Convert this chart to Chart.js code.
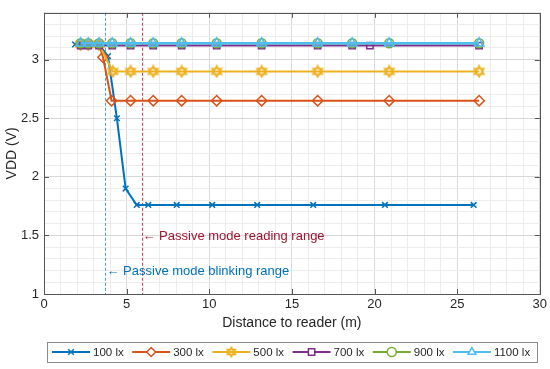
<!DOCTYPE html>
<html><head><meta charset="utf-8">
<script src="https://cdn.jsdelivr.net/npm/chart.js@4"></script>
<style>html,body{margin:0;padding:0;background:#fff}</style>
</head><body>
<canvas id="c" width="550" height="369"></canvas>
<script>
const seriesLabels = ['100 lx','300 lx','500 lx','700 lx','900 lx','1100 lx'];
const dist100 = [1.88, 2.22, 2.68, 3.33, 3.87, 4.41, 4.94, 5.61, 6.31, 8.03, 10.18, 12.9, 16.29, 20.63, 26.0];
const vdd100  = [3.13, 3.13, 3.13, 3.13, 3.03, 2.50, 1.90, 1.76, 1.76, 1.76, 1.76, 1.76, 1.76, 1.76, 1.76];
const dist300 = [2.22, 2.68, 3.33, 3.57, 4.09, 5.24, 6.61, 8.33, 10.45, 13.17, 16.56, 20.89, 26.33];
const vdd300  = [3.13, 3.13, 3.13, 3.02, 2.65, 2.65, 2.65, 2.65, 2.65, 2.65, 2.65, 2.65, 2.65];
const dist500 = [2.22, 2.68, 3.33, 4.16, 5.24, 6.61, 8.33, 10.45, 13.17, 16.56, 20.89, 26.33];
const vdd500  = [3.13, 3.13, 3.13, 2.90, 2.90, 2.90, 2.90, 2.90, 2.90, 2.90, 2.90, 2.90];
const dist700 = [2.22, 2.68, 3.33, 4.13, 5.24, 6.61, 8.33, 10.45, 13.17, 16.56, 18.65, 19.72, 26.33];
const vdd700  = [3.12, 3.12, 3.12, 3.12, 3.12, 3.12, 3.12, 3.12, 3.12, 3.12, 3.12, 3.12, 3.12];
const dist900 = [2.22, 2.68, 3.33, 4.13, 5.24, 6.61, 8.33, 10.45, 13.17, 16.56, 18.65, 20.89, 26.33];
const vdd900  = [3.14, 3.14, 3.14, 3.14, 3.14, 3.14, 3.14, 3.14, 3.14, 3.14, 3.14, 3.14, 3.14];
const dist1100 = [2.22, 2.68, 3.33, 4.13, 5.24, 6.61, 8.33, 10.45, 13.17, 16.56, 18.65, 20.89, 26.33];
const vdd1100  = [3.14, 3.14, 3.14, 3.14, 3.14, 3.14, 3.14, 3.14, 3.14, 3.14, 3.14, 3.14, 3.14];
const blinkingRange = 3.72;
const readingRange = 5.9;
const readingNote = {x: readingRange, y: 1.49, text: '\u2190 Passive mode reading range'};
const blinkingNote = {x: blinkingRange, y: 1.19, text: '\u2190 Passive mode blinking range'};
const xTicksMajor = [0, 5, 10, 15, 20, 25, 30];
const yTicksMajor = [1, 1.5, 2, 2.5, 3];

const colors = ['#0072BD','#D95319','#EDB120','#7E2F8E','#77AC30','#4DBEEE'];
const FONT = '"Liberation Sans", Arial, sans-serif';

function hexagram(color, size){
  const c = document.createElement('canvas');
  c.width = size; c.height = size;
  const g = c.getContext('2d');
  g.strokeStyle = color; g.lineWidth = 1.5;
  const cx = size/2, cy = size/2, r = size*0.4;
  for (let k = 0; k < 2; k++) {
    g.beginPath();
    for (let i = 0; i < 3; i++) {
      const a = -Math.PI/2 + k*Math.PI + i*2*Math.PI/3;
      const px = cx + r*Math.cos(a), py = cy + r*Math.sin(a);
      i ? g.lineTo(px, py) : g.moveTo(px, py);
    }
    g.closePath(); g.stroke();
  }
  return c;
}
const starImg = hexagram(colors[2], 14);
const starImgSmall = hexagram(colors[2], 12);

const pairs = (xs, ys) => xs.map((x, i) => ({x, y: ys[i]}));
const styles = [
  {pointStyle:'crossRot', pointRadius:4, borderWidth:2},
  {pointStyle:'rectRot', pointRadius:5.2, borderWidth:2},
  {pointStyle:starImg, pointRadius:7, borderWidth:2},
  {pointStyle:'rect', pointRadius:4.5, borderWidth:2},
  {pointStyle:'circle', pointRadius:4.5, borderWidth:2},
  {pointStyle:'triangle', pointRadius:5.5, borderWidth:2.5},
];
const dataArr = [pairs(dist100,vdd100), pairs(dist300,vdd300), pairs(dist500,vdd500),
                 pairs(dist700,vdd700), pairs(dist900,vdd900), pairs(dist1100,vdd1100)];
const datasets = dataArr.map((d, i) => ({
  label: seriesLabels[i], data: d, borderColor: colors[i], backgroundColor: 'rgba(0,0,0,0)',
  pointBorderColor: colors[i], pointBackgroundColor: 'rgba(0,0,0,0)', pointBorderWidth: 1.5,
  pointStyle: styles[i].pointStyle, pointRadius: styles[i].pointRadius, borderWidth: styles[i].borderWidth,
  tension: 0, order: 6 - i, clip: false
}));

const isMajor = (v, step) => Math.abs(v/step - Math.round(v/step)) < 1e-6;

const decor = {
  id: 'decor',
  beforeDatasetsDraw(chart) {
    const {ctx, chartArea: a, scales: {x}} = chart;
    ctx.save();
    ctx.lineWidth = 1; ctx.setLineDash([3, 2]);
    [[blinkingRange, '#4a9bd6'], [readingRange, '#c4485f']].forEach(([v, col]) => {
      const px = Math.round(x.getPixelForValue(v)) + 0.5;
      ctx.strokeStyle = col;
      ctx.beginPath(); ctx.moveTo(px, a.top); ctx.lineTo(px, a.bottom); ctx.stroke();
    });
    ctx.restore();
  },
  afterDatasetsDraw(chart) {
    const {ctx, chartArea: a, scales: {x, y}} = chart;
    ctx.save();
    ctx.strokeStyle = '#555'; ctx.lineWidth = 1;
    ctx.strokeRect(Math.round(a.left)+0.5, Math.round(a.top)+0.5, Math.round(a.right-a.left), Math.round(a.bottom-a.top));
    ctx.beginPath();
    xTicksMajor.forEach(v => {
      const px = Math.round(x.getPixelForValue(v)) + 0.5;
      ctx.moveTo(px, a.bottom); ctx.lineTo(px, a.bottom - 5);
      ctx.moveTo(px, a.top); ctx.lineTo(px, a.top + 5);
    });
    yTicksMajor.forEach(v => {
      const py = Math.round(y.getPixelForValue(v)) + 0.5;
      ctx.moveTo(a.left, py); ctx.lineTo(a.left + 5, py);
      ctx.moveTo(a.right, py); ctx.lineTo(a.right - 5, py);
    });
    ctx.stroke();
    ctx.font = '13px ' + FONT; ctx.textBaseline = 'middle'; ctx.textAlign = 'left';
    ctx.fillStyle = '#A2142F';
    ctx.fillText(readingNote.text, x.getPixelForValue(readingNote.x) + 1, y.getPixelForValue(readingNote.y));
    ctx.fillStyle = '#0072BD';
    ctx.fillText(blinkingNote.text, x.getPixelForValue(blinkingNote.x) + 1, y.getPixelForValue(blinkingNote.y));
    // legend
    const top = 342, bot = 362, mid = (top + bot) / 2;
    ctx.fillStyle = '#fff'; ctx.fillRect(47, top, 490, bot - top);
    ctx.strokeStyle = '#8a8a8a'; ctx.lineWidth = 1;
    ctx.strokeRect(47.5, top + 0.5, 490, bot - top);
    ctx.font = '11.5px ' + FONT;
    let lx = 52;
    chart.data.datasets.slice(0, 6).forEach((ds, i) => {
      ctx.strokeStyle = ds.borderColor; ctx.lineWidth = 2;
      ctx.beginPath(); ctx.moveTo(lx, mid); ctx.lineTo(lx + 38, mid); ctx.stroke();
      ctx.lineWidth = 1.5;
      ctx.fillStyle = '#fff';
      const ps = i === 2 ? starImgSmall : ds.pointStyle;
      Chart.helpers.drawPoint(ctx, {pointStyle: ps, radius: Math.min(ds.pointRadius, 4.5), borderWidth: 1.5, rotation: 0}, lx + 19, mid);
      ctx.fillStyle = '#262626';
      ctx.fillText(ds.label, lx + 41, mid + 0.5);
      lx += 41 + ctx.measureText(ds.label).width + 8.5;
    });
    ctx.restore();
  }
};

new Chart(document.getElementById('c'), {
  type: 'line',
  data: { datasets },
  options: {
    responsive: false, animation: false, devicePixelRatio: 1,
    layout: { padding: { top: 6, right: 10, bottom: 35, left: 0 } },
    plugins: { legend: { display: false }, tooltip: { enabled: false } },
    elements: { line: { fill: false } },
    scales: {
      x: {
        type: 'linear', min: 0, max: 30,
        afterFit(s) { s.height = 40; },
        border: { display: false },
        grid: { drawTicks: false, color: c => isMajor(c.tick.value, 5) ? '#d8d8d8' : '#ececec' },
        ticks: { stepSize: 1, autoSkip: false, maxRotation: 0, padding: 3, color: '#262626',
          font: { size: 13, family: FONT },
          callback: v => isMajor(v, 5) ? String(Math.round(v)) : '' },
        title: { display: true, text: 'Distance to reader (m)', color: '#262626',
          font: { size: 14, family: FONT }, padding: { top: 0, bottom: 2 } }
      },
      y: {
        type: 'linear', min: 1, max: 3.4,
        afterFit(s) { s.width = 44; },
        border: { display: false },
        grid: { drawTicks: false, color: c => isMajor(c.tick.value, 0.5) ? '#d8d8d8' : '#ececec' },
        ticks: { stepSize: 0.1, autoSkip: false, padding: 5, color: '#262626',
          font: { size: 13, family: FONT },
          callback: v => isMajor(v, 0.5) ? String(Math.round(v*10)/10) : '' },
        title: { display: true, text: 'VDD (V)', color: '#262626',
          font: { size: 14, family: FONT }, padding: { top: 4, bottom: 0 } }
      }
    }
  },
  plugins: [decor]
});
</script>
</body></html>
